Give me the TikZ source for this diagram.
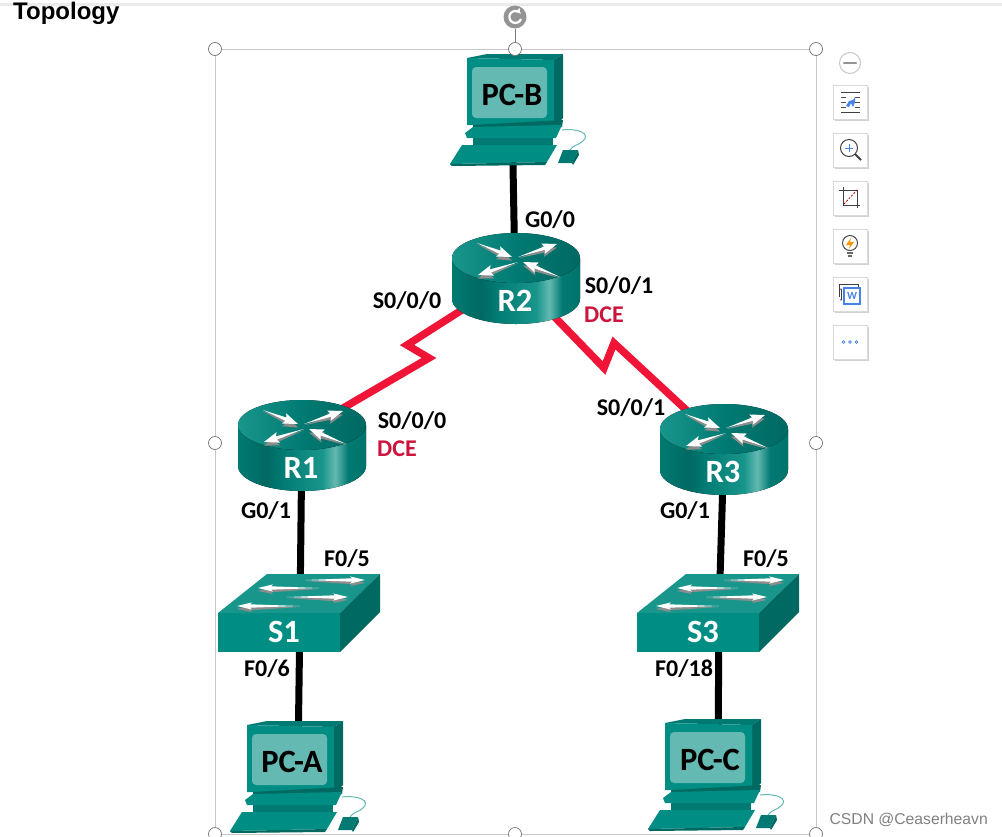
\documentclass[tikz,border=0pt]{standalone}
\usepackage{fontspec}
\setmainfont{Carlito}
\newfontfamily\arialf{Liberation Sans}
\usetikzlibrary{arrows.meta,backgrounds,shadows}
\definecolor{tealA}{RGB}{0,142,132}
\definecolor{tealB}{RGB}{0,105,98}
\definecolor{tealC}{RGB}{25,150,140}
\definecolor{tealD}{RGB}{0,122,114}
\definecolor{screenC}{RGB}{100,185,178}
\definecolor{redL}{RGB}{240,20,55}
\definecolor{dceC}{RGB}{205,20,60}
\definecolor{handleC}{RGB}{125,125,125}
\definecolor{boxC}{RGB}{200,200,200}
\definecolor{iconB}{RGB}{70,130,235}
\pgfdeclarehorizontalshading{routerbody}{100bp}{
 color(0bp)=(tealB); color(25bp)=(tealD); color(36bp)=(tealB); color(42bp)=(tealD);
 color(58bp)=(tealC); color(63bp)=(screenC); color(68bp)=(tealD); color(85bp)=(tealB); color(100bp)=(tealB)}
\pgfdeclarehorizontalshading{routertop}{100bp}{
 color(0bp)=(tealD); color(25bp)=(tealC); color(50bp)=(tealD); color(75bp)=(tealB); color(100bp)=(tealB)}
% tapered arrow: tail x,y, tip x,y, half head width, colour
\newcommand{\tapArrow}[6]{%
 \pgfmathsetmacro{\tapL}{veclen(#3-#1,#4-#2)}%
 \pgfmathsetmacro{\tapA}{atan2(-(#4-#2),#3-#1)}%
 \begin{scope}[shift={(#1,#2)},rotate=\tapA]
  \fill[#6] (0,0) -- (\tapL-13,1.7) -- (\tapL-15,#5) -- (\tapL,0) -- (\tapL-15,-#5) -- (\tapL-13,-1.7) -- cycle;
 \end{scope}}
\tikzset{
 x=1pt,y=-1pt,
 conn/.style={line width=7pt,black},
 serial/.style={line width=7.5pt,redL,line join=miter,miter limit=3},
 port/.style={font=\fontsize{24}{26}\selectfont\bfseries,text=black,inner sep=0pt},
 dce/.style={font=\fontsize{24}{26}\selectfont\bfseries,text=dceC,inner sep=0pt},
 devw/.style={font=\fontsize{32.5}{34}\selectfont\bfseries,text=white,inner sep=0pt},
 devb/.style={font=\fontsize{32.5}{34}\selectfont\bfseries,text=black,inner sep=0pt},
 handle/.style={circle,draw=black!55,fill=white,line width=.7pt,minimum size=13pt,inner sep=0pt},
 tool/.style={draw=black!15,fill=white,line width=.6pt,minimum size=34pt,inner sep=0pt,
   drop shadow={shadow xshift=2pt,shadow yshift=-2pt,fill=black,opacity=.18}},
 pics/router/.style n args={2}{code={
  \fill[shading=routerbody] (-64,0) -- (-64,41) arc[start angle=180,end angle=0,x radius=64,y radius=25] -- (64,0) -- cycle;
  \fill[shading=routertop] (0,0) ellipse[x radius=64,y radius=25];
  \foreach \a/\b/\c/\d in {2/-1/41/-14, 2/4/-38/17, -39/-15/-4/-1, 44/19/7/4}{
   \tapArrow{\a}{\b+1.2}{\c}{\d+1.2}{5.5}{black!45}
   \tapArrow{\a}{\b}{\c}{\d}{5.5}{white}}
  \node[devw] (#1) at (-1,43) {#2};
 }},
 pics/switch/.style n args={2}{code={
  \fill[tealC] (0,0) -- (49,-39) -- (162,-39) -- (122,0) -- cycle;
  \fill[tealB] (122,0) -- (162,-39) -- (162,-1) -- (122,39) -- cycle;
  \fill[tealA] (0,0) rectangle (122,39);
  \foreach \a/\c/\d in {87/147/-33, 101/40/-25, 69/130/-16, 82/19/-7}{
   \tapArrow{\a}{\d+1}{\c}{\d+1}{3.6}{black!45}
   \tapArrow{\a}{\d}{\c}{\d}{3.6}{white}}
  \node[devw] (#1) at (66,19) {#2};
 }},
 pics/pc/.style n args={2}{code={
  % cable
  \draw[screenC,line width=1pt] (95,72) .. controls (112,70) and (124,76) .. (116,83) .. controls (112,87) and (106,87) .. (103,92);
  % monitor
  \fill[tealD] (0,0) -- (20,-4) -- (96,-4) -- (87,2) -- cycle;
  \fill[tealB] (87,2) -- (96,-4) -- (96,60) -- (87,69) -- cycle;
  \fill[tealA] (0,0) -- (87,2) -- (87,69) -- (0,67) -- cycle;
  \fill[screenC,rounded corners=4pt] (5,9) rectangle (80,60);
  % stand plate
  \fill[tealB] (6,67) -- (96,62) -- (95,69) -- (6,72) -- cycle;
  \fill[tealA] (-2,75) -- (6,69) -- (95,67) -- (89,80) -- (0,80) -- cycle;
  \fill[tealD] (6,80) rectangle (86,88);
  % keyboard
  \fill[tealA] (-5,87) -- (90,87) -- (80,104) -- (-17,106) -- cycle;
  \fill[tealB] (-17,106) -- (80,104) -- (78,107) -- (-15,108) -- cycle;
  % mouse
  \fill[tealD] (96,92) -- (111,92) -- (105,105) -- (91,105) -- cycle;
  \fill[tealB] (111,92) -- (112,97) -- (106,107) -- (105,105) -- cycle;
  \node[devb] (#1) at (45,37) {#2};
 }}
}
\begin{document}
\begin{tikzpicture}
\useasboundingbox (0,0) rectangle (1002,836);
% top strip and title
\fill[black!8] (0,3) rectangle (1002,6);
\node[font=\arialf\fontsize{24}{26}\selectfont\bfseries,inner sep=0pt,anchor=west] (title) at (13,13) {Topology};
% selection frame
\draw[boxC,line width=.7pt] (215,49) rectangle (816,834);
% device anchor coordinates
\coordinate (PCB) at (512,110);
\coordinate (R2) at (515,276);
\coordinate (R1) at (302,432);
\coordinate (R3) at (724,445);
\coordinate (S1) at (300,612);
\coordinate (S3) at (719,612);
\coordinate (PCA) at (298,760);
\coordinate (PCC) at (718,760);
\coordinate (za) at (407,345);
\coordinate (zb) at (429,358);
\coordinate (zc) at (604,368);
\coordinate (zd) at (614,343);
% devices
\pic at (467,58) {pc={lPCB}{PC-B}};
\pic at (516,258) {router={lR2}{R2}};
\pic at (302,425) {router={lR1}{R1}};
\pic at (724,429) {router={lR3}{R3}};
\pic at (218,613) {switch={lS1}{S1}};
\pic at (637,613) {switch={lS3}{S3}};
\pic at (247,725) {pc={lPCA}{PC-A}};
\pic at (665,723) {pc={lPCC}{PC-C}};
% connectors
\begin{scope}[on background layer]
\draw[conn] (PCB) -- (R2);
\draw[conn] (R1) -- (S1);
\draw[conn] (S1) -- (PCA);
\draw[conn] (R3) -- (S3);
\draw[conn] (S3) -- (PCC);
\draw[serial] (R2) -- (za) -- (zb) -- (R1);
\draw[serial] (R2) -- (zc) -- (zd) -- (R3);
\end{scope}
% port labels
\node[port] (p1) at (550,220) {G0/0};
\node[port] (p2) at (407,301) {S0/0/0};
\node[port] (p3) at (619,286) {S0/0/1};
\node[dce] (p4) at (604,315) {DCE};
\node[port] (p5) at (412,421) {S0/0/0};
\node[dce] (p6) at (397,449) {DCE};
\node[port] (p7) at (631,408) {S0/0/1};
\node[port] (p8) at (266,511) {G0/1};
\node[port] (p9) at (347,559) {F0/5};
\node[port] (p10) at (267,669) {F0/6};
\node[port] (p11) at (685,511) {G0/1};
\node[port] (p12) at (766,559) {F0/5};
\node[port] (p13) at (684,669) {F0/18};
% selection handles
\foreach \n/\x/\y in {h1/215/49,h2/515/49,h3/816/49,h4/215/443,h5/816/443,h6/215/834,h7/515/834,h8/816/834}
  \node[handle] (\n) at (\x,\y) {};
% rotate handle
\node[circle,fill=black!42,minimum size=23pt,inner sep=0pt] (rot) at (515,17) {};
\draw[handleC,line width=.8pt] (rot) -- (h2);
\draw[white,line width=2.2pt,-{Triangle[width=6pt,length=4pt]}] (521,19) arc[start angle=20,end angle=320,radius=6];
% toolbar
\node[circle,draw=black!22,line width=1pt,minimum size=21pt,inner sep=0pt] (minus) at (850,63) {};
\draw[black!42,line width=2.4pt,line cap=round] (844,63) -- (856,63);
\foreach \n/\y in {t1/102,t2/150,t3/198,t4/246,t5/294,t6/342}
  \node[tool] (\n) at (850,\y) {};
% icon 1
\foreach \y/\a/\b in {92/841/860,112/841/860}
  \draw[black!75,line width=.8pt] (\a,\y) -- (\b,\y);
\foreach \y in {97,102,107} {\draw[black!70,line width=.8pt] (841,\y) -- (846,\y); \draw[black!70,line width=.8pt] (855,\y) -- (860,\y);}
\fill[iconB] (846,106) -- (849,101) -- (853,100) -- (855,97) -- (855,102) -- (853,107) -- (851,103) -- (849,107) -- cycle;
% icon 2
\draw[black!75,line width=1pt] (849,148) circle[radius=8.5];
\draw[black!75,line width=2pt] (855,154) -- (861,160);
\draw[iconB,line width=1pt] (845,148) -- (853,148) (849,144) -- (849,152);
% icon 3
\draw[black!75,line width=1pt] (843,187) -- (843,205) -- (860,205) (839,190) -- (857,190) -- (857,208);
\draw[red!75!black,dashed,line width=.8pt,dash pattern=on 2pt off 1.5pt] (844,204) -- (858,189);
% icon 4
\draw[black!70,line width=1pt] (850,243) circle[radius=7.5];
\fill[orange!85!yellow] (851,238) -- (846,245) -- (850,245) -- (849,249) -- (854,242) -- (850,242) -- cycle;
\draw[black!60,line width=1.6pt] (847,253) -- (853,253) (848,256) -- (852,256);
% icon 5
\draw[black!75,line width=.9pt] (839,297) -- (839,284) -- (858,284) -- (858,288);
\draw[black!75,line width=.7pt,<->,>={Stealth[length=2pt]}] (841,288) -- (841,301);
\node[draw=iconB,fill=white,line width=1.1pt,minimum width=16pt,minimum height=16pt,inner sep=0pt,text=iconB,font=\fontsize{11}{12}\selectfont\bfseries] (wd) at (852,296) {W};
% icon 6
\foreach \x in {843.5,850,856.5} \draw[iconB,line width=.8pt] (\x,342) circle[radius=1.4];
% watermark
\node[font=\arialf\fontsize{15.7}{17}\selectfont,text=black!50,inner sep=0pt,anchor=east] (wm) at (988,820) {CSDN @Ceaserheavn};
\end{tikzpicture}
\end{document}
